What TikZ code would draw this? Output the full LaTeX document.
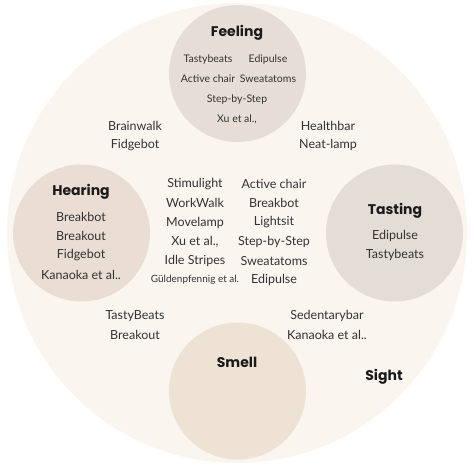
\documentclass[tikz,border=0pt]{standalone}
\usepackage{fontspec}
\setmainfont{Lato}
\newfontfamily\titlefont{Poppins}
\definecolor{bigbg}{HTML}{FBF5F0}
\definecolor{feelc}{HTML}{E6DED6}
\definecolor{hearc}{HTML}{EADDD3}
\definecolor{tastc}{HTML}{E3DDD5}
\definecolor{smelc}{HTML}{EDE2D4}
\definecolor{txt}{HTML}{333333}
\definecolor{ttl}{HTML}{1A1A1A}
\tikzset{
  sense/.style={circle, minimum size=137pt, inner sep=0pt},
  ttlnode/.style={font=\titlefont\bfseries\fontsize{14}{16}\selectfont, text=ttl, inner sep=0pt},
  item/.style={font=\fontsize{12.5}{14}\selectfont, text=txt, inner sep=0pt},
  smallitem/.style={font=\fontsize{10.5}{12}\selectfont, text=txt, inner sep=0pt},
  tinyitem/.style={font=\fontsize{10}{12}\selectfont, text=txt, inner sep=0pt}
}
\begin{document}
\begin{tikzpicture}[x=1pt,y=-1pt]
\useasboundingbox (0,0) rectangle (474,467);
\fill[white] (0,0) rectangle (474,467);
\node[circle, fill=bigbg, minimum size=460pt, inner sep=0pt] (big) at (237,233) {};
\node[sense, fill=feelc] (feel) at (237.5,73.5) {};
\node[sense, fill=hearc] (hear) at (81.5,233) {};
\node[sense, fill=tastc] (tast) at (394.5,233) {};
\node[sense, fill=smelc] (smel) at (237.5,391) {};
% Feeling
\node[ttlnode] (tfeel) at (237,33) {Feeling};
\node[smallitem] (f1) at (208,60) {Tastybeats};
\node[smallitem] (f2) at (268,60) {Edipulse};
\node[smallitem] (f3) at (208,79) {Active chair};
\node[smallitem] (f4) at (268,79) {Sweatatoms};
\node[smallitem] (f5) at (237,99.5) {Step-by-Step};
\node[smallitem] (f6) at (237,119) {Xu et al.,};
% between feeling and hearing / tasting
\node[item] (fh1) at (135,126) {Brainwalk};
\node[item] (fh2) at (135,145) {Fidgebot};
\node[item] (ft1) at (328,126) {Healthbar};
\node[item] (ft2) at (328,145) {Neat-lamp};
% Hearing
\node[ttlnode] (thear) at (81,192) {Hearing};
\node[item] (h1) at (81,217) {Breakbot};
\node[item] (h2) at (81,236) {Breakout};
\node[item] (h3) at (81,255) {Fidgebot};
\node[item] (h4) at (81,275) {Kanaoka et al..};
% centre
\node[item] (c1) at (195,184) {Stimulight};
\node[item] (c2) at (195,203) {WorkWalk};
\node[item] (c3) at (195,222.5) {Movelamp};
\node[item] (c4) at (195,242) {Xu et al.,};
\node[item] (c5) at (195,261) {Idle Stripes};
\node[tinyitem] (c6) at (195,280) {Güldenpfennig et al.};
\node[item] (d1) at (274,184) {Active chair};
\node[item] (d2) at (274,203) {Breakbot};
\node[item] (d3) at (274,222.5) {Lightsit};
\node[item] (d4) at (274,242) {Step-by-Step};
\node[item] (d5) at (274,261) {Sweatatoms};
\node[item] (d6) at (274,280) {Edipulse};
% Tasting
\node[ttlnode] (ttast) at (395,211) {Tasting};
\node[item] (t1) at (395,236) {Edipulse};
\node[item] (t2) at (395,255) {Tastybeats};
% between hearing/smell and tasting/smell
\node[item] (hs1) at (135,316) {TastyBeats};
\node[item] (hs2) at (135,335) {Breakout};
\node[item] (ts1) at (327,316) {Sedentarybar};
\node[item] (ts2) at (327,335) {Kanaoka et al..};
% Smell, Sight
\node[ttlnode] (tsmel) at (237,362) {Smell};
\node[ttlnode] (tsight) at (384,377) {Sight};
\end{tikzpicture}
\end{document}
